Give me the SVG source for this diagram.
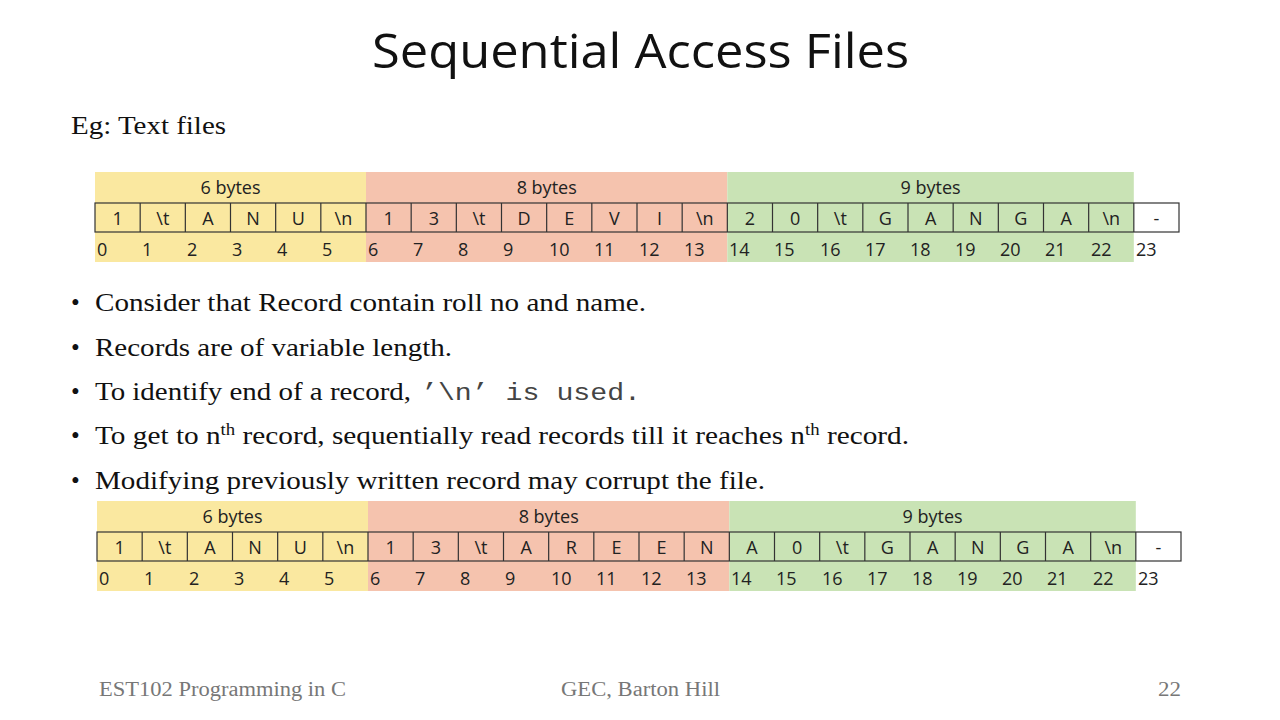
<svg xmlns="http://www.w3.org/2000/svg" width="1280" height="720" viewBox="0 0 1280 720">
<style>
.t{font-family:"Open Sans","Liberation Sans",sans-serif;font-size:18px;fill:#222}
.c{text-anchor:middle}
.s{font-family:"Liberation Serif",serif;font-size:25px;fill:#111}
.f{font-family:"Liberation Serif",serif;font-size:20px;fill:#777}
.cell{fill:none;stroke:#333;stroke-width:1.2}
</style>
<rect width="1280" height="720" fill="#fff"/>
<text x="372" y="68" textLength="537" lengthAdjust="spacingAndGlyphs" style="font-family:'Open Sans','Liberation Sans',sans-serif;font-size:48px;fill:#111">Sequential Access Files</text>
<text class="s" x="71" y="134" textLength="155" lengthAdjust="spacingAndGlyphs">Eg: Text files</text>
<defs>
<g id="bands">
<rect x="0" y="0" width="271" height="90" fill="#FAE8A0"/>
<rect x="271" y="0" width="361.3" height="90" fill="#F5C3AE"/>
<rect x="632.3" y="0" width="406.5" height="90" fill="#C9E3B5"/>
<text class="t c" x="135.5" y="22">6 bytes</text>
<text class="t c" x="451.7" y="22">8 bytes</text>
<text class="t c" x="835.6" y="22">9 bytes</text>
<rect class="cell" x="0" y="31" width="1084" height="29"/>
<path class="cell" d="M45.17 31v29M90.33 31v29M135.5 31v29M180.67 31v29M225.83 31v29M271 31v29M316.17 31v29M361.33 31v29M406.5 31v29M451.67 31v29M496.83 31v29M542 31v29M587.17 31v29M632.33 31v29M677.5 31v29M722.67 31v29M767.83 31v29M813 31v29M858.17 31v29M903.33 31v29M948.5 31v29M993.67 31v29M1038.83 31v29"/>
<g class="t">
<text x="2" y="84">0</text><text x="47" y="84">1</text><text x="92" y="84">2</text><text x="137" y="84">3</text><text x="182" y="84">4</text><text x="227" y="84">5</text><text x="273" y="84">6</text><text x="318" y="84">7</text><text x="363" y="84">8</text><text x="408" y="84">9</text><text x="454" y="84">10</text><text x="499" y="84">11</text><text x="544" y="84">12</text><text x="589" y="84">13</text><text x="634" y="84">14</text><text x="679" y="84">15</text><text x="725" y="84">16</text><text x="770" y="84">17</text><text x="815" y="84">18</text><text x="860" y="84">19</text><text x="905" y="84">20</text><text x="950" y="84">21</text><text x="996" y="84">22</text><text x="1041" y="84">23</text>
</g>
</g>
</defs>
<g id="table1" transform="translate(95,172)">
<use href="#bands"/>
<g class="t c">
<text x="22.6" y="53">1</text><text x="67.8" y="53">\t</text><text x="112.9" y="53">A</text><text x="158.1" y="53">N</text><text x="203.3" y="53">U</text><text x="248.4" y="53">\n</text><text x="293.6" y="53">1</text><text x="338.8" y="53">3</text><text x="383.9" y="53">\t</text><text x="429.1" y="53">D</text><text x="474.3" y="53">E</text><text x="519.4" y="53">V</text><text x="564.6" y="53">I</text><text x="609.8" y="53">\n</text><text x="654.9" y="53">2</text><text x="700.1" y="53">0</text><text x="745.3" y="53">\t</text><text x="790.4" y="53">G</text><text x="835.6" y="53">A</text><text x="880.8" y="53">N</text><text x="925.9" y="53">G</text><text x="971.1" y="53">A</text><text x="1016.3" y="53">\n</text><text x="1061.4" y="53">-</text>
</g>
</g>
<g id="bullets" class="s">
<text x="71" y="311">•</text><text x="95" y="311" textLength="551" lengthAdjust="spacingAndGlyphs">Consider that Record contain roll no and name.</text>
<text x="71" y="356">•</text><text x="95" y="356" textLength="357" lengthAdjust="spacingAndGlyphs">Records are of variable length.</text>
<text x="71" y="400">•</text><text x="95" y="400" textLength="316" lengthAdjust="spacingAndGlyphs">To identify end of a record,</text>
<text x="421" y="400" textLength="220" lengthAdjust="spacingAndGlyphs" style="font-family:'Liberation Mono',monospace;font-size:24px;fill:#444">’\n’ is used.</text>
<text x="71" y="444">•</text><text x="95" y="444" textLength="814" lengthAdjust="spacingAndGlyphs">To get to n<tspan font-size="16" dy="-9">th</tspan><tspan dy="9"> record, sequentially read records till it reaches n</tspan><tspan font-size="16" dy="-9">th</tspan><tspan dy="9"> record.</tspan></text>
<text x="71" y="489">•</text><text x="95" y="489" textLength="670" lengthAdjust="spacingAndGlyphs">Modifying previously written record may corrupt the file.</text>
</g>
<g id="table2" transform="translate(97,501)">
<use href="#bands"/>
<g class="t c">
<text x="22.6" y="53">1</text><text x="67.8" y="53">\t</text><text x="112.9" y="53">A</text><text x="158.1" y="53">N</text><text x="203.3" y="53">U</text><text x="248.4" y="53">\n</text><text x="293.6" y="53">1</text><text x="338.8" y="53">3</text><text x="383.9" y="53">\t</text><text x="429.1" y="53">A</text><text x="474.3" y="53">R</text><text x="519.4" y="53">E</text><text x="564.6" y="53">E</text><text x="609.8" y="53">N</text><text x="654.9" y="53">A</text><text x="700.1" y="53">0</text><text x="745.3" y="53">\t</text><text x="790.4" y="53">G</text><text x="835.6" y="53">A</text><text x="880.8" y="53">N</text><text x="925.9" y="53">G</text><text x="971.1" y="53">A</text><text x="1016.3" y="53">\n</text><text x="1061.4" y="53">-</text>
</g>
</g>
<g id="footer" class="f">
<text x="99" y="696" textLength="247" lengthAdjust="spacingAndGlyphs">EST102 Programming in C</text>
<text x="561" y="696" textLength="159" lengthAdjust="spacingAndGlyphs">GEC, Barton Hill</text>
<text x="1158" y="696" textLength="23" lengthAdjust="spacingAndGlyphs">22</text>
</g>
</svg>
